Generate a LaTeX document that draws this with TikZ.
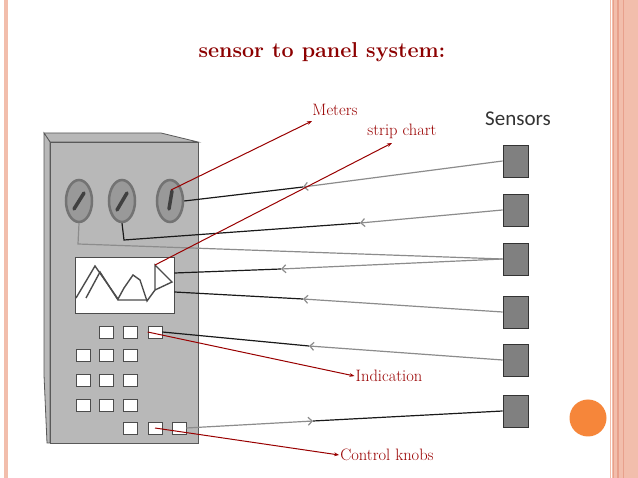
\documentclass[tikz,border=0pt]{standalone}
\usepackage{fontspec}
\usetikzlibrary{arrows.meta,shapes.geometric}
\newfontfamily\snsfont{Carlito}
\definecolor{dotc}{RGB}{246,134,58}
\definecolor{band}{RGB}{242,190,172}
\definecolor{bandd}{RGB}{232,160,140}
\begin{document}
\begin{tikzpicture}[x=1pt,y=-1pt,
  sensor/.style={draw=black!80,fill=black!50,line width=0.8pt,minimum width=25pt,minimum height=32pt,inner sep=0pt},
  btn/.style={draw=black!70,fill=white,line width=0.6pt,minimum width=14pt,minimum height=12pt,inner sep=0pt},
  dial/.style={draw=black!55,fill=black!40,line width=2.5pt,ellipse,minimum width=26pt,minimum height=42pt,inner sep=0pt},
  wg/.style={draw=black!45,line width=1.2pt,-{Straight Barb[length=4pt,width=8pt]}},
  wgp/.style={draw=black!45,line width=1.2pt},
  wb/.style={draw=black!90,line width=1.2pt},
  red/.style={draw=red!60!black,line width=1pt,-{Stealth[length=5pt]}},
  lbl/.style={text=red!60!black,font=\fontsize{16.5}{19}\selectfont,inner sep=1pt}]
\useasboundingbox (0,0) rectangle (638,478);
\fill[white] (0,0) rectangle (638,478);
% slide decoration
\fill[band] (4,0) rectangle (8,478);
\fill[band] (610,0) rectangle (638,478);
\fill[bandd] (613,0) rectangle (614,478);
\fill[bandd] (617,0) rectangle (619,478);
\fill[bandd] (623,0) rectangle (624,478);
\fill[white] (611,0) rectangle (612,478);
\node[circle,fill=dotc,minimum size=37pt,inner sep=0pt] (dot) at (588,418) {};
% title
\node[text=red!55!black,font=\bfseries\fontsize{21.5}{25}\selectfont] (title) at (322,52) {sensor to panel system:};
\node[text=black!80,font=\snsfont\fontsize{21}{24}\selectfont] (stitle) at (518,119) {Sensors};
% cabinet
\filldraw[fill=black!28,draw=black!65,line width=0.8pt] (44,133) -- (161,133) -- (198,142) -- (50,142) -- cycle;
\filldraw[fill=black!28,draw=black!65,line width=0.8pt] (44,133) -- (50,142) -- (50,443) -- (47,443) -- (44,375) -- cycle;
\filldraw[fill=black!28,draw=black!65,line width=0.8pt] (50,142) rectangle (198,443);
% dials
\node[dial] (d1) at (79,201) {};
\node[dial] (d2) at (122,201) {};
\node[dial] (d3) at (170,201) {};
\draw[black!75,line width=3.5pt,line cap=round] (74,209) -- (84,193);
\draw[black!75,line width=3.5pt,line cap=round] (117,210) -- (127,193);
\draw[black!75,line width=3.5pt,line cap=round] (169,209) -- (172,191);
% chart
\node[draw=black!70,fill=white,line width=0.8pt,minimum width=99pt,minimum height=56pt,inner sep=0pt] (chart) at (124.5,285) {};
\draw[black!70,line width=1.4pt] (76,298) -- (95,266) -- (118,299) -- (124,288) -- (133,275) -- (140,280) -- (147,301) -- (155,290) -- (155,265) -- (172,282) -- (155,290);
\draw[black!70,line width=1.4pt] (86,298) -- (100,272) -- (118,300) -- (146,300);
% buttons
\foreach \x/\y/\n in {106/332/b1,130/332/b2,155/332/b3,
  83/355/b4,106/355/b5,130/355/b6,
  83/380/b7,106/380/b8,130/380/b9,
  83/405/b10,106/405/b11,130/405/b12,
  130/428/b13,155/428/b14,179/428/b15}
  \node[btn] (\n) at (\x,\y) {};
% sensors
\node[sensor] (s1) at (515.5,161) {};
\node[sensor] (s2) at (515.5,210) {};
\node[sensor] (s3) at (515.5,259) {};
\node[sensor] (s4) at (515.5,312) {};
\node[sensor] (s5) at (515.5,360) {};
\node[sensor] (s6) at (515.5,411) {};
% marks
\coordinate (m1) at (303,187);
\coordinate (m2) at (360,223);
\coordinate (m3) at (281,269);
\coordinate (m4) at (303,299);
\coordinate (m5) at (309,346);
\coordinate (m6) at (313,421);
\coordinate (c2) at (124,240);
\coordinate (c1) at (78,244);
% wires
\draw[wg] (s1.west) -- (m1); \draw[wb] (m1) -- (d3.east);
\draw[wg] (s2.west) -- (m2); \draw[wb] (m2) -- (c2) -- (d2.south);
\draw[wgp] (s3.west) -- (c1) -- (d1.south);
\draw[wg] (s3.west) -- (m3); \draw[wb] (m3) -- (chart.east |- 0,273);
\draw[wg] (s4.west) -- (m4); \draw[wb] (m4) -- (chart.east |- 0,292);
\draw[wg] (s5.west) -- (m5); \draw[wb] (m5) -- (b3.east);
\draw[wb] (s6.west) -- (m6); \draw[wg] (b15.east) -- (m6);
% labels
\node[lbl] (meters) at (335,110) {Meters};
\node[lbl] (strip) at (402,131) {strip chart};
\node[lbl] (ind) at (389,376) {Indication};
\node[lbl] (knobs) at (387,455) {Control knobs};
\draw[red] (171,190) -- (312,121);
\draw[red] (155,265) -- (392,143);
\draw[red] (b3.west) -- (ind.west);
\draw[red] (b14.center) -- (knobs.west);
\end{tikzpicture}
\end{document}
